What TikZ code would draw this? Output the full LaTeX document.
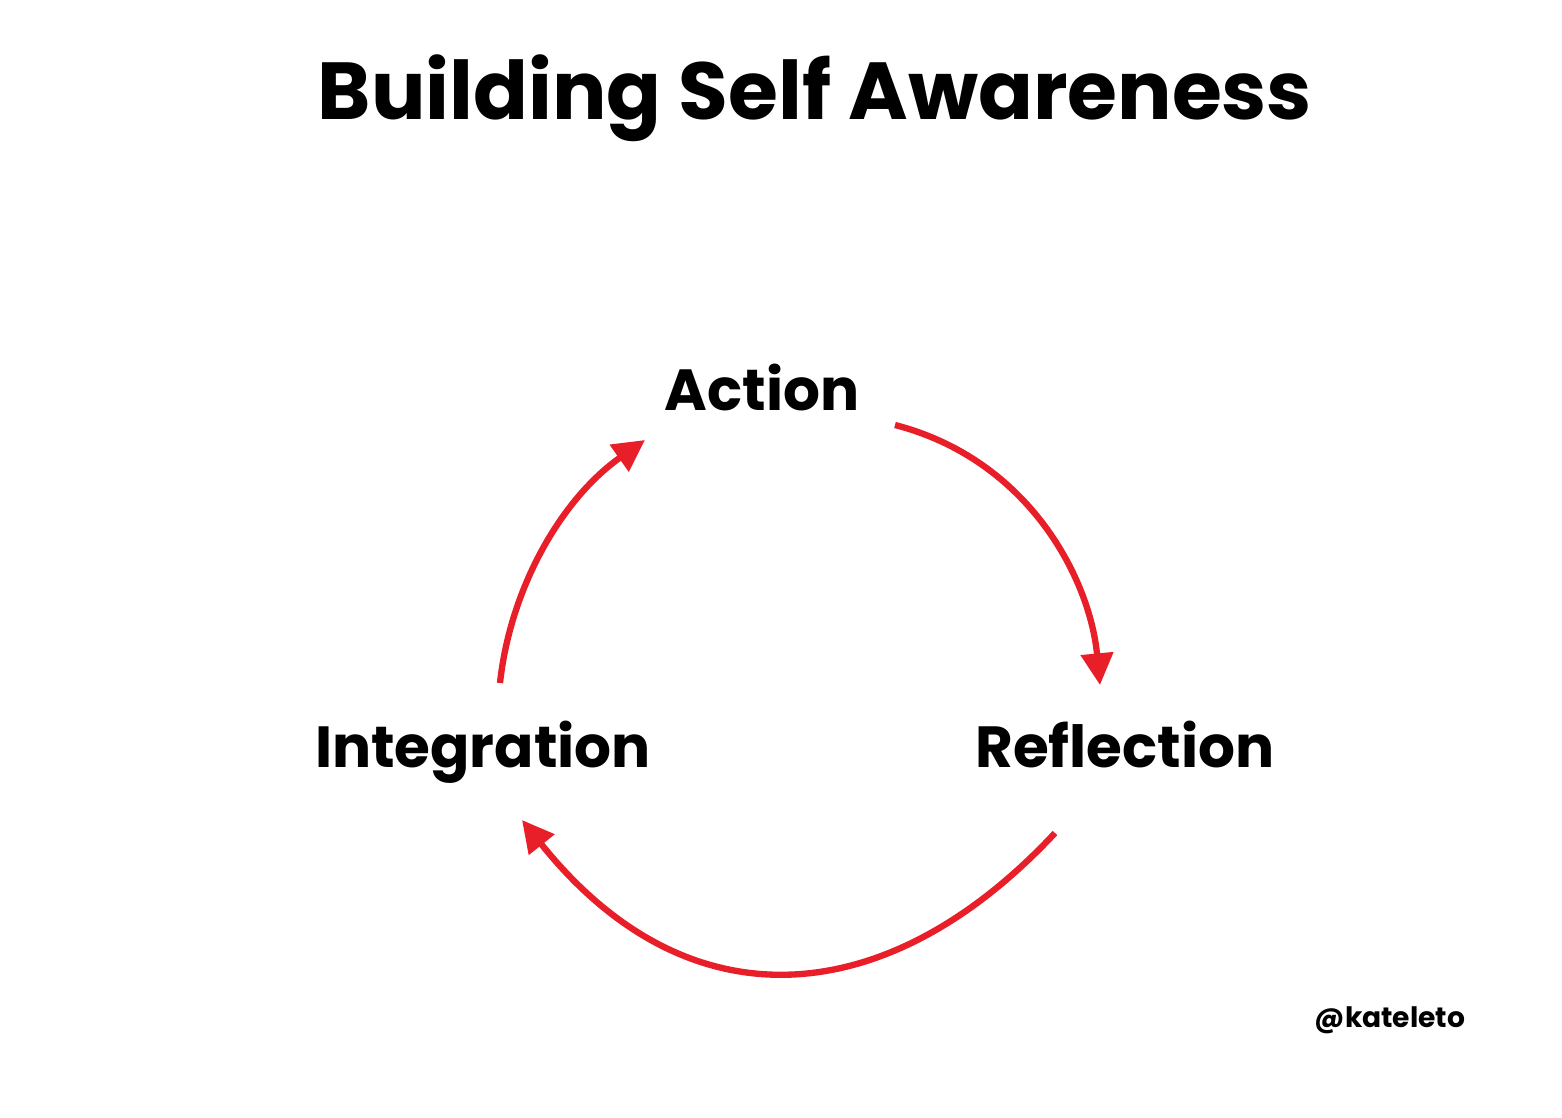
\documentclass[tikz,border=0pt]{standalone}
\usepackage{fontspec}
\setmainfont{Poppins}
\usetikzlibrary{arrows.meta}
\definecolor{arrred}{RGB}{232,30,40}
\begin{document}
\begin{tikzpicture}[x=0.01cm,y=-0.01cm,
  lbl/.style={anchor=base,font=\bfseries\fontsize{16.5}{20}\selectfont},
  cyc/.style={draw=arrred,line width=1.8pt,-{Triangle[length=9pt,width=9pt]}}]
\useasboundingbox (0,0) rectangle (1562,1118);
\node[anchor=base,font=\bfseries\fontsize{23}{28}\selectfont] (title) at (815,120) {Building Self Awareness};
\node[lbl] (act) at (762,410) {Action};
\node[lbl] (int) at (483,767) {Integration};
\node[lbl] (ref) at (1125,767) {Reflection};
\node[anchor=base,font=\bfseries\fontsize{8}{10}\selectfont] (sig) at (1390,1027) {@kateleto};
\coordinate (a1) at (895,425); \coordinate (a2) at (1100,685);
\coordinate (b1) at (1055,833); \coordinate (b2) at (522,820);
\coordinate (c1) at (500,683); \coordinate (c2) at (645,440);
\draw[cyc] (a1) .. controls (1030,460) and (1090,580) .. (a2);
\draw[cyc] (b1) .. controls (890,1010) and (690,1030) .. (b2);
\draw[cyc] (c1) .. controls (510,590) and (560,500) .. (c2);
\end{tikzpicture}
\end{document}
